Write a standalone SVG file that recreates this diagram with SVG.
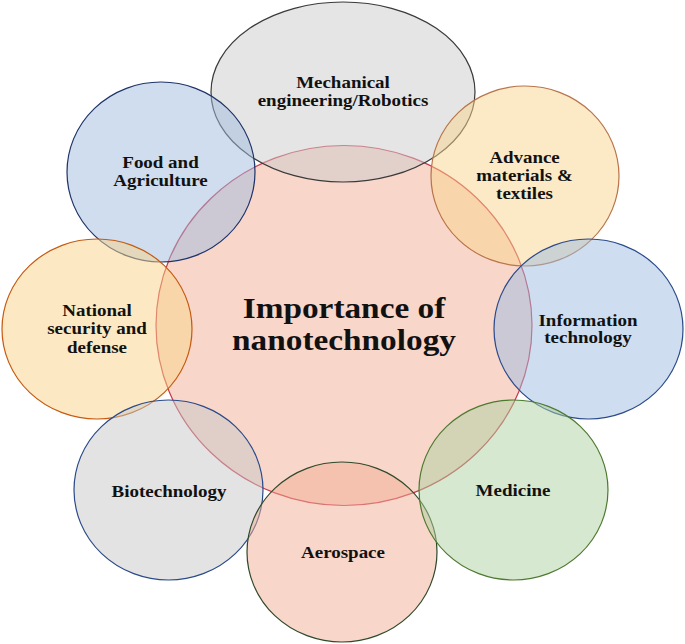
<svg xmlns="http://www.w3.org/2000/svg" width="685" height="644" viewBox="0 0 685 644">
<style>
.n{fill-opacity:0.5;stroke-width:1.2}
.t{font-family:"Liberation Serif","Times New Roman",serif;font-weight:bold;font-size:16.5px;fill:#111;text-anchor:middle}
.big{font-size:30px}
</style>
<rect width="685" height="644" fill="#fff"/>
<g id="center">
<ellipse class="n" cx="344" cy="325.5" rx="188" ry="180" fill="#F1AD95" stroke="#C8384B"/>
</g>
<g id="mechanical">
<ellipse class="n" cx="343" cy="92" rx="132" ry="90" fill="#CBCBCB" stroke="#3A3A3A"/>
<text class="t" transform="translate(343,0) scale(1.15,1)"><tspan x="0" y="88">Mechanical</tspan><tspan x="0" y="106.5">engineering/Robotics</tspan></text>
</g>
<g id="food">
<ellipse class="n" cx="161" cy="172" rx="94" ry="90" fill="#9FBBDD" stroke="#1F3468"/>
<text class="t" transform="translate(160.5,0) scale(1.15,1)"><tspan x="0" y="168">Food and</tspan><tspan x="0" y="186">Agriculture</tspan></text>
</g>
<g id="advance">
<ellipse class="n" cx="525" cy="176" rx="94" ry="90" fill="#F9D38B" stroke="#B8744A"/>
<text class="t" transform="translate(524.5,0) scale(1.15,1)"><tspan x="0" y="163">Advance</tspan><tspan x="0" y="181">materials &amp;</tspan><tspan x="0" y="199">textiles</tspan></text>
</g>
<g id="information">
<ellipse class="n" cx="588.5" cy="329" rx="94.5" ry="90" fill="#9DBBDF" stroke="#2A4A8A"/>
<text class="t" transform="translate(588,0) scale(1.15,1)"><tspan x="0" y="326">Information</tspan><tspan x="0" y="343.5">technology</tspan></text>
</g>
<g id="national">
<ellipse class="n" cx="97" cy="329" rx="95" ry="90" fill="#F9D389" stroke="#C55A11"/>
<text class="t" transform="translate(97,0) scale(1.15,1)"><tspan x="0" y="316">National</tspan><tspan x="0" y="334.5">security and</tspan><tspan x="0" y="353">defense</tspan></text>
</g>
<g id="biotechnology">
<ellipse class="n" cx="168.5" cy="490" rx="94.5" ry="90" fill="#C7C7C7" stroke="#2A4A8A"/>
<text class="t" transform="translate(169,0) scale(1.15,1)" x="0" y="497">Biotechnology</text>
</g>
<g id="aerospace">
<ellipse class="n" cx="342" cy="552" rx="95" ry="90" fill="#F1AD95" stroke="#2E4A2A"/>
<text class="t" transform="translate(343,0) scale(1.15,1)" x="0" y="558">Aerospace</text>
</g>
<g id="medicine">
<ellipse class="n" cx="513.5" cy="490" rx="94.5" ry="90" fill="#ADD19F" stroke="#4E7A30"/>
<text class="t" transform="translate(513,0) scale(1.15,1)" x="0" y="496">Medicine</text>
</g>
<g id="title">
<text class="t big" transform="translate(344,0) scale(1.11,1)"><tspan x="0" y="318">Importance of</tspan><tspan x="0" y="350">nanotechnology</tspan></text>
</g>
</svg>
